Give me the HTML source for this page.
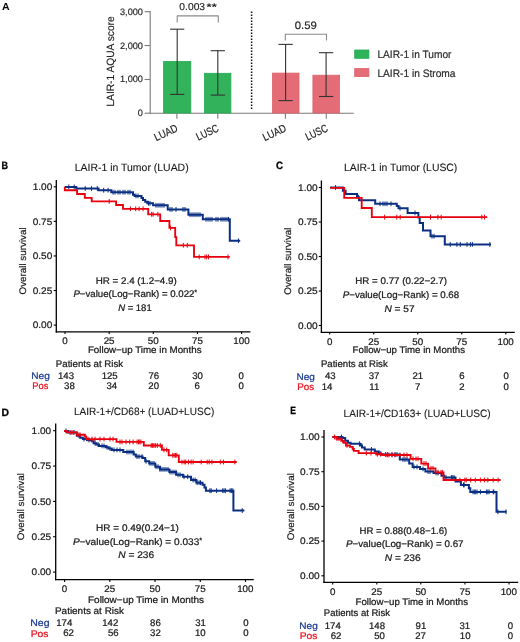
<!DOCTYPE html>
<html><head><meta charset="utf-8"><style>
html,body{margin:0;padding:0;background:#fff;}
svg{display:block;will-change:transform;}
text{font-family:"Liberation Sans",sans-serif;text-rendering:geometricPrecision;}
</style></head><body>
<svg width="520" height="642" viewBox="0 0 520 642" font-family="Liberation Sans, sans-serif">
<rect width="520" height="642" fill="#fff"/>
<text x="1.94" y="9.80" font-size="10.30" textLength="7.65" lengthAdjust="spacingAndGlyphs" fill="#000" font-weight="bold">A</text>
<line x1="150.20" y1="11.20" x2="150.20" y2="113.60" stroke="#7a7a7a" stroke-width="1.10"/>
<line x1="144.60" y1="11.70" x2="150.20" y2="11.70" stroke="#7a7a7a" stroke-width="1.10"/>
<line x1="144.60" y1="45.50" x2="150.20" y2="45.50" stroke="#7a7a7a" stroke-width="1.10"/>
<line x1="144.60" y1="79.50" x2="150.20" y2="79.50" stroke="#7a7a7a" stroke-width="1.10"/>
<line x1="144.60" y1="113.20" x2="150.20" y2="113.20" stroke="#7a7a7a" stroke-width="1.10"/>
<text x="119.97" y="14.60" font-size="9.20" textLength="23.02" lengthAdjust="spacingAndGlyphs" fill="#222" stroke="#222" stroke-width="0.15">3,000</text>
<text x="119.97" y="48.50" font-size="9.20" textLength="23.02" lengthAdjust="spacingAndGlyphs" fill="#222" stroke="#222" stroke-width="0.15">2,000</text>
<text x="119.97" y="82.40" font-size="9.20" textLength="23.02" lengthAdjust="spacingAndGlyphs" fill="#222" stroke="#222" stroke-width="0.15">1,000</text>
<text x="137.86" y="116.20" font-size="9.20" textLength="5.12" lengthAdjust="spacingAndGlyphs" fill="#222" stroke="#222" stroke-width="0.15">0</text>
<g transform="translate(113.6,61.3) rotate(-90)">
<text x="-45.32" y="0.00" font-size="10.60" textLength="90.30" lengthAdjust="spacingAndGlyphs" fill="#222" stroke="#222" stroke-width="0.15">LAIR-1 AQUA score</text>
</g>
<line x1="149.70" y1="113.20" x2="353.80" y2="113.20" stroke="#7a7a7a" stroke-width="1.10"/>
<line x1="176.90" y1="113.20" x2="176.90" y2="118.80" stroke="#7a7a7a" stroke-width="1.10"/>
<line x1="217.80" y1="113.20" x2="217.80" y2="118.80" stroke="#7a7a7a" stroke-width="1.10"/>
<line x1="285.40" y1="113.20" x2="285.40" y2="118.80" stroke="#7a7a7a" stroke-width="1.10"/>
<line x1="326.30" y1="113.20" x2="326.30" y2="118.80" stroke="#7a7a7a" stroke-width="1.10"/>
<rect x="163.60" y="61.50" width="27.20" height="51.50" fill="#33b25c" stroke="#24ab50" stroke-width="0.8"/>
<rect x="204.50" y="73.30" width="26.40" height="39.70" fill="#33b25c" stroke="#24ab50" stroke-width="0.8"/>
<rect x="272.50" y="73.10" width="26.50" height="39.90" fill="#e36c76" stroke="#de636e" stroke-width="0.8"/>
<rect x="312.90" y="75.20" width="26.70" height="37.80" fill="#e36c76" stroke="#de636e" stroke-width="0.8"/>
<line x1="177.20" y1="29.00" x2="177.20" y2="94.40" stroke="#333333" stroke-width="1.10"/>
<line x1="170.10" y1="29.20" x2="184.30" y2="29.20" stroke="#333333" stroke-width="1.10"/>
<line x1="170.10" y1="94.40" x2="184.30" y2="94.40" stroke="#333333" stroke-width="1.10"/>
<line x1="217.80" y1="50.50" x2="217.80" y2="95.10" stroke="#333333" stroke-width="1.10"/>
<line x1="210.70" y1="50.70" x2="224.90" y2="50.70" stroke="#333333" stroke-width="1.10"/>
<line x1="210.70" y1="95.10" x2="224.90" y2="95.10" stroke="#333333" stroke-width="1.10"/>
<line x1="285.60" y1="44.20" x2="285.60" y2="100.60" stroke="#333333" stroke-width="1.10"/>
<line x1="278.50" y1="44.40" x2="292.70" y2="44.40" stroke="#333333" stroke-width="1.10"/>
<line x1="278.50" y1="100.60" x2="292.70" y2="100.60" stroke="#333333" stroke-width="1.10"/>
<line x1="326.10" y1="52.50" x2="326.10" y2="96.50" stroke="#333333" stroke-width="1.10"/>
<line x1="319.00" y1="52.70" x2="333.20" y2="52.70" stroke="#333333" stroke-width="1.10"/>
<line x1="319.00" y1="96.50" x2="333.20" y2="96.50" stroke="#333333" stroke-width="1.10"/>
<path d="M177.2 22.4 V15.9 H218.3 V22.6" fill="none" stroke="#8a8a8a" stroke-width="1.1" stroke-linejoin="round"/>
<path d="M285.3 40.4 V34.2 H326.5 V40.4" fill="none" stroke="#8a8a8a" stroke-width="1.1" stroke-linejoin="round"/>
<text x="179.39" y="10.40" font-size="10.00" textLength="25.70" lengthAdjust="spacingAndGlyphs" fill="#222" stroke="#222" stroke-width="0.15">0.003</text>
<text x="206.64" y="10.20" font-size="9.40" textLength="10.11" lengthAdjust="spacingAndGlyphs" fill="#222" font-weight="bold">**</text>
<text x="294.75" y="28.70" font-size="10.90" textLength="22.08" lengthAdjust="spacingAndGlyphs" fill="#222" stroke="#222" stroke-width="0.15">0.59</text>
<line x1="251.6" y1="11.4" x2="251.6" y2="110" stroke="#111" stroke-width="1.5" stroke-dasharray="1.5 1.5"/>
<g transform="translate(178.10,131.00) rotate(-25)">
<text x="-24.03" y="0.00" font-size="10.90" textLength="24.47" lengthAdjust="spacingAndGlyphs" fill="#222" stroke="#222" stroke-width="0.20">LUAD</text>
</g>
<g transform="translate(219.20,131.00) rotate(-25)">
<text x="-23.00" y="0.00" font-size="10.90" textLength="23.37" lengthAdjust="spacingAndGlyphs" fill="#222" stroke="#222" stroke-width="0.20">LUSC</text>
</g>
<g transform="translate(286.60,131.00) rotate(-25)">
<text x="-24.03" y="0.00" font-size="10.90" textLength="24.47" lengthAdjust="spacingAndGlyphs" fill="#222" stroke="#222" stroke-width="0.20">LUAD</text>
</g>
<g transform="translate(328.30,131.00) rotate(-25)">
<text x="-23.00" y="0.00" font-size="10.90" textLength="23.37" lengthAdjust="spacingAndGlyphs" fill="#222" stroke="#222" stroke-width="0.20">LUSC</text>
</g>
<rect x="354.70" y="50.00" width="14.20" height="8.30" fill="#2fb35a" stroke="#24ab50" stroke-width="0.8"/>
<rect x="354.70" y="68.60" width="14.20" height="8.00" fill="#e36c76" stroke="#de636e" stroke-width="0.8"/>
<text x="377.39" y="58.30" font-size="10.80" textLength="74.07" lengthAdjust="spacingAndGlyphs" fill="#2a2a2a" stroke="#2a2a2a" stroke-width="0.20">LAIR-1 in Tumor</text>
<text x="377.39" y="76.60" font-size="10.80" textLength="78.11" lengthAdjust="spacingAndGlyphs" fill="#2a2a2a" stroke="#2a2a2a" stroke-width="0.20">LAIR-1 in Stroma</text>
<line x1="56.30" y1="180.10" x2="56.30" y2="332.40" stroke="#000" stroke-width="1.30"/>
<line x1="53.70" y1="186.80" x2="56.30" y2="186.80" stroke="#000" stroke-width="1.10"/>
<text x="32.72" y="190.10" font-size="9.50" textLength="19.60" lengthAdjust="spacingAndGlyphs" fill="#1a1a1a" stroke="#1a1a1a" stroke-width="0.22">1.00</text>
<line x1="53.70" y1="221.38" x2="56.30" y2="221.38" stroke="#000" stroke-width="1.10"/>
<text x="32.72" y="224.68" font-size="9.50" textLength="19.60" lengthAdjust="spacingAndGlyphs" fill="#1a1a1a" stroke="#1a1a1a" stroke-width="0.22">0.75</text>
<line x1="53.70" y1="255.95" x2="56.30" y2="255.95" stroke="#000" stroke-width="1.10"/>
<text x="32.72" y="259.25" font-size="9.50" textLength="19.60" lengthAdjust="spacingAndGlyphs" fill="#1a1a1a" stroke="#1a1a1a" stroke-width="0.22">0.50</text>
<line x1="53.70" y1="290.53" x2="56.30" y2="290.53" stroke="#000" stroke-width="1.10"/>
<text x="32.72" y="293.83" font-size="9.50" textLength="19.60" lengthAdjust="spacingAndGlyphs" fill="#1a1a1a" stroke="#1a1a1a" stroke-width="0.22">0.25</text>
<line x1="53.70" y1="325.10" x2="56.30" y2="325.10" stroke="#000" stroke-width="1.10"/>
<text x="32.72" y="328.40" font-size="9.50" textLength="19.60" lengthAdjust="spacingAndGlyphs" fill="#1a1a1a" stroke="#1a1a1a" stroke-width="0.22">0.00</text>
<line x1="55.70" y1="331.80" x2="250.40" y2="331.80" stroke="#000" stroke-width="1.30"/>
<line x1="65.00" y1="331.80" x2="65.00" y2="334.00" stroke="#000" stroke-width="1.10"/>
<text x="62.28" y="344.30" font-size="9.60" textLength="5.45" lengthAdjust="spacingAndGlyphs" fill="#1a1a1a" stroke="#1a1a1a" stroke-width="0.22">0</text>
<line x1="109.15" y1="331.80" x2="109.15" y2="334.00" stroke="#000" stroke-width="1.10"/>
<text x="103.67" y="344.30" font-size="9.60" textLength="10.89" lengthAdjust="spacingAndGlyphs" fill="#1a1a1a" stroke="#1a1a1a" stroke-width="0.22">25</text>
<line x1="153.30" y1="331.80" x2="153.30" y2="334.00" stroke="#000" stroke-width="1.10"/>
<text x="147.87" y="344.30" font-size="9.60" textLength="10.89" lengthAdjust="spacingAndGlyphs" fill="#1a1a1a" stroke="#1a1a1a" stroke-width="0.22">50</text>
<line x1="197.45" y1="331.80" x2="197.45" y2="334.00" stroke="#000" stroke-width="1.10"/>
<text x="191.97" y="344.30" font-size="9.60" textLength="10.89" lengthAdjust="spacingAndGlyphs" fill="#1a1a1a" stroke="#1a1a1a" stroke-width="0.22">75</text>
<line x1="241.60" y1="331.80" x2="241.60" y2="334.00" stroke="#000" stroke-width="1.10"/>
<text x="233.28" y="344.30" font-size="9.60" textLength="16.34" lengthAdjust="spacingAndGlyphs" fill="#1a1a1a" stroke="#1a1a1a" stroke-width="0.22">100</text>
<text x="1.41" y="168.80" font-size="10.60" textLength="6.51" lengthAdjust="spacingAndGlyphs" fill="#000" font-weight="bold" stroke="#000" stroke-width="0.30">B</text>
<text x="74.76" y="171.20" font-size="10.60" textLength="113.89" lengthAdjust="spacingAndGlyphs" fill="#1a1a1a" stroke="#1a1a1a" stroke-width="0.12">LAIR-1 in Tumor (LUAD)</text>
<text x="87.92" y="353.20" font-size="9.60" textLength="113.62" lengthAdjust="spacingAndGlyphs" fill="#1a1a1a" stroke="#1a1a1a" stroke-width="0.24">Follow−up Time in Months</text>
<g transform="translate(25.80,261.00) rotate(-90)">
<text x="-33.44" y="0.00" font-size="9.60" textLength="67.08" lengthAdjust="spacingAndGlyphs" fill="#1a1a1a" stroke="#1a1a1a" stroke-width="0.20">Overall survival</text>
</g>
<text x="95.72" y="283.90" font-size="9.60" textLength="80.99" lengthAdjust="spacingAndGlyphs" fill="#1a1a1a" stroke="#1a1a1a" stroke-width="0.24">HR = 2.4 (1.2−4.9)</text>
<text x="73.43" y="297.20" font-size="9.60" textLength="120.97" lengthAdjust="spacingAndGlyphs" fill="#1a1a1a" stroke="#1a1a1a" stroke-width="0.24"><tspan font-style="italic">P</tspan>−value(Log−Rank) = 0.022</text>
<text x="118.14" y="311.20" font-size="9.60" textLength="33.54" lengthAdjust="spacingAndGlyphs" fill="#1a1a1a" stroke="#1a1a1a" stroke-width="0.24"><tspan font-style="italic">N</tspan> = 181</text>
<text x="194.36" y="295.30" font-size="8.00" textLength="2.87" lengthAdjust="spacingAndGlyphs" fill="#1a1a1a" font-weight="bold">*</text>
<text x="55.82" y="366.50" font-size="9.60" textLength="67.40" lengthAdjust="spacingAndGlyphs" fill="#1a1a1a" stroke="#1a1a1a" stroke-width="0.24">Patients at Risk</text>
<text x="31.19" y="379.20" font-size="9.60" textLength="18.67" lengthAdjust="spacingAndGlyphs" fill="#1f3d96" stroke="#1f3d96" stroke-width="0.24">Neg</text>
<text x="32.35" y="389.30" font-size="9.60" textLength="16.05" lengthAdjust="spacingAndGlyphs" fill="#e8101c" stroke="#e8101c" stroke-width="0.24">Pos</text>
<text x="58.01" y="378.90" font-size="9.60" textLength="16.02" lengthAdjust="spacingAndGlyphs" fill="#1a1a1a" stroke="#1a1a1a" stroke-width="0.24">143</text>
<text x="101.69" y="378.90" font-size="9.60" textLength="16.02" lengthAdjust="spacingAndGlyphs" fill="#1a1a1a" stroke="#1a1a1a" stroke-width="0.24">125</text>
<text x="148.40" y="378.90" font-size="9.60" textLength="10.68" lengthAdjust="spacingAndGlyphs" fill="#1a1a1a" stroke="#1a1a1a" stroke-width="0.24">76</text>
<text x="192.22" y="378.90" font-size="9.60" textLength="10.68" lengthAdjust="spacingAndGlyphs" fill="#1a1a1a" stroke="#1a1a1a" stroke-width="0.24">30</text>
<text x="238.59" y="378.90" font-size="9.60" textLength="5.34" lengthAdjust="spacingAndGlyphs" fill="#1a1a1a" stroke="#1a1a1a" stroke-width="0.24">0</text>
<text x="64.07" y="389.40" font-size="9.60" textLength="10.68" lengthAdjust="spacingAndGlyphs" fill="#1a1a1a" stroke="#1a1a1a" stroke-width="0.24">38</text>
<text x="106.42" y="389.40" font-size="9.60" textLength="10.68" lengthAdjust="spacingAndGlyphs" fill="#1a1a1a" stroke="#1a1a1a" stroke-width="0.24">34</text>
<text x="148.37" y="389.40" font-size="9.60" textLength="10.68" lengthAdjust="spacingAndGlyphs" fill="#1a1a1a" stroke="#1a1a1a" stroke-width="0.24">20</text>
<text x="194.61" y="389.40" font-size="9.60" textLength="5.34" lengthAdjust="spacingAndGlyphs" fill="#1a1a1a" stroke="#1a1a1a" stroke-width="0.24">6</text>
<text x="238.59" y="389.40" font-size="9.60" textLength="5.34" lengthAdjust="spacingAndGlyphs" fill="#1a1a1a" stroke="#1a1a1a" stroke-width="0.24">0</text>
<line x1="321.40" y1="180.50" x2="321.40" y2="333.00" stroke="#000" stroke-width="1.30"/>
<line x1="318.80" y1="187.50" x2="321.40" y2="187.50" stroke="#000" stroke-width="1.10"/>
<text x="298.12" y="190.80" font-size="9.50" textLength="19.60" lengthAdjust="spacingAndGlyphs" fill="#1a1a1a" stroke="#1a1a1a" stroke-width="0.22">1.00</text>
<line x1="318.80" y1="222.00" x2="321.40" y2="222.00" stroke="#000" stroke-width="1.10"/>
<text x="298.12" y="225.30" font-size="9.50" textLength="19.60" lengthAdjust="spacingAndGlyphs" fill="#1a1a1a" stroke="#1a1a1a" stroke-width="0.22">0.75</text>
<line x1="318.80" y1="256.50" x2="321.40" y2="256.50" stroke="#000" stroke-width="1.10"/>
<text x="298.12" y="259.80" font-size="9.50" textLength="19.60" lengthAdjust="spacingAndGlyphs" fill="#1a1a1a" stroke="#1a1a1a" stroke-width="0.22">0.50</text>
<line x1="318.80" y1="291.00" x2="321.40" y2="291.00" stroke="#000" stroke-width="1.10"/>
<text x="298.12" y="294.30" font-size="9.50" textLength="19.60" lengthAdjust="spacingAndGlyphs" fill="#1a1a1a" stroke="#1a1a1a" stroke-width="0.22">0.25</text>
<line x1="318.80" y1="325.50" x2="321.40" y2="325.50" stroke="#000" stroke-width="1.10"/>
<text x="298.12" y="328.80" font-size="9.50" textLength="19.60" lengthAdjust="spacingAndGlyphs" fill="#1a1a1a" stroke="#1a1a1a" stroke-width="0.22">0.00</text>
<line x1="320.80" y1="332.40" x2="514.80" y2="332.40" stroke="#000" stroke-width="1.30"/>
<line x1="329.70" y1="332.40" x2="329.70" y2="334.60" stroke="#000" stroke-width="1.10"/>
<text x="326.98" y="344.90" font-size="9.60" textLength="5.45" lengthAdjust="spacingAndGlyphs" fill="#1a1a1a" stroke="#1a1a1a" stroke-width="0.22">0</text>
<line x1="373.73" y1="332.40" x2="373.73" y2="334.60" stroke="#000" stroke-width="1.10"/>
<text x="368.24" y="344.90" font-size="9.60" textLength="10.89" lengthAdjust="spacingAndGlyphs" fill="#1a1a1a" stroke="#1a1a1a" stroke-width="0.22">25</text>
<line x1="417.75" y1="332.40" x2="417.75" y2="334.60" stroke="#000" stroke-width="1.10"/>
<text x="412.32" y="344.90" font-size="9.60" textLength="10.89" lengthAdjust="spacingAndGlyphs" fill="#1a1a1a" stroke="#1a1a1a" stroke-width="0.22">50</text>
<line x1="461.77" y1="332.40" x2="461.77" y2="334.60" stroke="#000" stroke-width="1.10"/>
<text x="456.29" y="344.90" font-size="9.60" textLength="10.89" lengthAdjust="spacingAndGlyphs" fill="#1a1a1a" stroke="#1a1a1a" stroke-width="0.22">75</text>
<line x1="505.80" y1="332.40" x2="505.80" y2="334.60" stroke="#000" stroke-width="1.10"/>
<text x="497.48" y="344.90" font-size="9.60" textLength="16.34" lengthAdjust="spacingAndGlyphs" fill="#1a1a1a" stroke="#1a1a1a" stroke-width="0.22">100</text>
<text x="275.91" y="168.50" font-size="10.60" textLength="7.06" lengthAdjust="spacingAndGlyphs" fill="#000" font-weight="bold" stroke="#000" stroke-width="0.30">C</text>
<text x="343.97" y="171.20" font-size="10.60" textLength="113.38" lengthAdjust="spacingAndGlyphs" fill="#1a1a1a" stroke="#1a1a1a" stroke-width="0.12">LAIR-1 in Tumor (LUSC)</text>
<text x="352.63" y="353.40" font-size="9.60" textLength="112.40" lengthAdjust="spacingAndGlyphs" fill="#1a1a1a" stroke="#1a1a1a" stroke-width="0.24">Follow−up Time in Months</text>
<g transform="translate(290.60,261.20) rotate(-90)">
<text x="-33.44" y="0.00" font-size="9.60" textLength="67.08" lengthAdjust="spacingAndGlyphs" fill="#1a1a1a" stroke="#1a1a1a" stroke-width="0.20">Overall survival</text>
</g>
<text x="355.32" y="284.00" font-size="9.60" textLength="91.71" lengthAdjust="spacingAndGlyphs" fill="#1a1a1a" stroke="#1a1a1a" stroke-width="0.24">HR = 0.77 (0.22−2.7)</text>
<text x="342.72" y="297.80" font-size="9.60" textLength="116.47" lengthAdjust="spacingAndGlyphs" fill="#1a1a1a" stroke="#1a1a1a" stroke-width="0.24"><tspan font-style="italic">P</tspan>−value(Log−Rank) = 0.68</text>
<text x="384.49" y="312.00" font-size="9.60" textLength="30.11" lengthAdjust="spacingAndGlyphs" fill="#1a1a1a" stroke="#1a1a1a" stroke-width="0.24"><tspan font-style="italic">N</tspan> = 57</text>
<text x="320.93" y="366.90" font-size="9.60" textLength="66.79" lengthAdjust="spacingAndGlyphs" fill="#1a1a1a" stroke="#1a1a1a" stroke-width="0.24">Patients at Risk</text>
<text x="296.60" y="379.60" font-size="9.60" textLength="18.35" lengthAdjust="spacingAndGlyphs" fill="#1f3d96" stroke="#1f3d96" stroke-width="0.24">Neg</text>
<text x="297.22" y="389.70" font-size="9.60" textLength="16.80" lengthAdjust="spacingAndGlyphs" fill="#e8101c" stroke="#e8101c" stroke-width="0.24">Pos</text>
<text x="324.97" y="379.40" font-size="9.60" textLength="10.68" lengthAdjust="spacingAndGlyphs" fill="#1a1a1a" stroke="#1a1a1a" stroke-width="0.24">43</text>
<text x="368.72" y="379.40" font-size="9.60" textLength="10.68" lengthAdjust="spacingAndGlyphs" fill="#1a1a1a" stroke="#1a1a1a" stroke-width="0.24">37</text>
<text x="412.47" y="379.40" font-size="9.60" textLength="10.68" lengthAdjust="spacingAndGlyphs" fill="#1a1a1a" stroke="#1a1a1a" stroke-width="0.24">21</text>
<text x="459.31" y="379.40" font-size="9.60" textLength="5.34" lengthAdjust="spacingAndGlyphs" fill="#1a1a1a" stroke="#1a1a1a" stroke-width="0.24">6</text>
<text x="503.44" y="379.40" font-size="9.60" textLength="5.34" lengthAdjust="spacingAndGlyphs" fill="#1a1a1a" stroke="#1a1a1a" stroke-width="0.24">0</text>
<text x="321.66" y="389.60" font-size="9.60" textLength="10.68" lengthAdjust="spacingAndGlyphs" fill="#1a1a1a" stroke="#1a1a1a" stroke-width="0.24">14</text>
<text x="369.31" y="389.60" font-size="9.60" textLength="9.97" lengthAdjust="spacingAndGlyphs" fill="#1a1a1a" stroke="#1a1a1a" stroke-width="0.24">11</text>
<text x="414.94" y="389.60" font-size="9.60" textLength="5.34" lengthAdjust="spacingAndGlyphs" fill="#1a1a1a" stroke="#1a1a1a" stroke-width="0.24">7</text>
<text x="459.34" y="389.60" font-size="9.60" textLength="5.34" lengthAdjust="spacingAndGlyphs" fill="#1a1a1a" stroke="#1a1a1a" stroke-width="0.24">2</text>
<text x="503.44" y="389.60" font-size="9.60" textLength="5.34" lengthAdjust="spacingAndGlyphs" fill="#1a1a1a" stroke="#1a1a1a" stroke-width="0.24">0</text>
<line x1="55.70" y1="423.50" x2="55.70" y2="580.30" stroke="#000" stroke-width="1.30"/>
<line x1="53.10" y1="430.70" x2="55.70" y2="430.70" stroke="#000" stroke-width="1.10"/>
<text x="31.62" y="434.00" font-size="9.50" textLength="19.60" lengthAdjust="spacingAndGlyphs" fill="#1a1a1a" stroke="#1a1a1a" stroke-width="0.22">1.00</text>
<line x1="53.10" y1="466.05" x2="55.70" y2="466.05" stroke="#000" stroke-width="1.10"/>
<text x="31.62" y="469.35" font-size="9.50" textLength="19.60" lengthAdjust="spacingAndGlyphs" fill="#1a1a1a" stroke="#1a1a1a" stroke-width="0.22">0.75</text>
<line x1="53.10" y1="501.40" x2="55.70" y2="501.40" stroke="#000" stroke-width="1.10"/>
<text x="31.62" y="504.70" font-size="9.50" textLength="19.60" lengthAdjust="spacingAndGlyphs" fill="#1a1a1a" stroke="#1a1a1a" stroke-width="0.22">0.50</text>
<line x1="53.10" y1="536.75" x2="55.70" y2="536.75" stroke="#000" stroke-width="1.10"/>
<text x="31.62" y="540.05" font-size="9.50" textLength="19.60" lengthAdjust="spacingAndGlyphs" fill="#1a1a1a" stroke="#1a1a1a" stroke-width="0.22">0.25</text>
<line x1="53.10" y1="572.10" x2="55.70" y2="572.10" stroke="#000" stroke-width="1.10"/>
<text x="31.62" y="575.40" font-size="9.50" textLength="19.60" lengthAdjust="spacingAndGlyphs" fill="#1a1a1a" stroke="#1a1a1a" stroke-width="0.22">0.00</text>
<line x1="55.10" y1="579.70" x2="253.75" y2="579.70" stroke="#000" stroke-width="1.30"/>
<line x1="64.60" y1="579.70" x2="64.60" y2="581.90" stroke="#000" stroke-width="1.10"/>
<text x="61.88" y="592.20" font-size="9.60" textLength="5.45" lengthAdjust="spacingAndGlyphs" fill="#1a1a1a" stroke="#1a1a1a" stroke-width="0.22">0</text>
<line x1="109.82" y1="579.70" x2="109.82" y2="581.90" stroke="#000" stroke-width="1.10"/>
<text x="104.34" y="592.20" font-size="9.60" textLength="10.89" lengthAdjust="spacingAndGlyphs" fill="#1a1a1a" stroke="#1a1a1a" stroke-width="0.22">25</text>
<line x1="155.05" y1="579.70" x2="155.05" y2="581.90" stroke="#000" stroke-width="1.10"/>
<text x="149.62" y="592.20" font-size="9.60" textLength="10.89" lengthAdjust="spacingAndGlyphs" fill="#1a1a1a" stroke="#1a1a1a" stroke-width="0.22">50</text>
<line x1="200.28" y1="579.70" x2="200.28" y2="581.90" stroke="#000" stroke-width="1.10"/>
<text x="194.79" y="592.20" font-size="9.60" textLength="10.89" lengthAdjust="spacingAndGlyphs" fill="#1a1a1a" stroke="#1a1a1a" stroke-width="0.22">75</text>
<line x1="245.50" y1="579.70" x2="245.50" y2="581.90" stroke="#000" stroke-width="1.10"/>
<text x="237.18" y="592.20" font-size="9.60" textLength="16.34" lengthAdjust="spacingAndGlyphs" fill="#1a1a1a" stroke="#1a1a1a" stroke-width="0.22">100</text>
<text x="1.62" y="416.00" font-size="10.60" textLength="7.52" lengthAdjust="spacingAndGlyphs" fill="#000" font-weight="bold" stroke="#000" stroke-width="0.30">D</text>
<text x="73.90" y="414.70" font-size="10.60" textLength="140.34" lengthAdjust="spacingAndGlyphs" fill="#1a1a1a" stroke="#1a1a1a" stroke-width="0.12">LAIR-1+/CD68+ (LUAD+LUSC)</text>
<text x="88.00" y="603.40" font-size="9.60" textLength="116.09" lengthAdjust="spacingAndGlyphs" fill="#1a1a1a" stroke="#1a1a1a" stroke-width="0.24">Follow−up Time in Months</text>
<g transform="translate(24.00,506.80) rotate(-90)">
<text x="-33.44" y="0.00" font-size="9.60" textLength="67.08" lengthAdjust="spacingAndGlyphs" fill="#1a1a1a" stroke="#1a1a1a" stroke-width="0.20">Overall survival</text>
</g>
<text x="96.10" y="530.90" font-size="9.60" textLength="82.73" lengthAdjust="spacingAndGlyphs" fill="#1a1a1a" stroke="#1a1a1a" stroke-width="0.24">HR = 0.49(0.24−1)</text>
<text x="72.99" y="544.70" font-size="9.60" textLength="126.28" lengthAdjust="spacingAndGlyphs" fill="#1a1a1a" stroke="#1a1a1a" stroke-width="0.24"><tspan font-style="italic">P</tspan>−value(Log−Rank) = 0.033</text>
<text x="118.29" y="558.20" font-size="9.60" textLength="35.87" lengthAdjust="spacingAndGlyphs" fill="#1a1a1a" stroke="#1a1a1a" stroke-width="0.24"><tspan font-style="italic">N</tspan> = 236</text>
<text x="199.16" y="542.60" font-size="8.00" textLength="2.87" lengthAdjust="spacingAndGlyphs" fill="#1a1a1a" font-weight="bold">*</text>
<text x="55.01" y="614.20" font-size="9.60" textLength="68.92" lengthAdjust="spacingAndGlyphs" fill="#1a1a1a" stroke="#1a1a1a" stroke-width="0.24">Patients at Risk</text>
<text x="30.26" y="626.20" font-size="9.60" textLength="19.32" lengthAdjust="spacingAndGlyphs" fill="#1f3d96" stroke="#1f3d96" stroke-width="0.24">Neg</text>
<text x="30.67" y="636.60" font-size="9.60" textLength="17.87" lengthAdjust="spacingAndGlyphs" fill="#e8101c" stroke="#e8101c" stroke-width="0.24">Pos</text>
<text x="56.24" y="626.20" font-size="9.60" textLength="16.02" lengthAdjust="spacingAndGlyphs" fill="#1a1a1a" stroke="#1a1a1a" stroke-width="0.24">174</text>
<text x="102.29" y="626.20" font-size="9.60" textLength="16.02" lengthAdjust="spacingAndGlyphs" fill="#1a1a1a" stroke="#1a1a1a" stroke-width="0.24">142</text>
<text x="150.07" y="626.20" font-size="9.60" textLength="10.68" lengthAdjust="spacingAndGlyphs" fill="#1a1a1a" stroke="#1a1a1a" stroke-width="0.24">86</text>
<text x="195.22" y="626.20" font-size="9.60" textLength="10.68" lengthAdjust="spacingAndGlyphs" fill="#1a1a1a" stroke="#1a1a1a" stroke-width="0.24">31</text>
<text x="243.24" y="626.20" font-size="9.60" textLength="5.34" lengthAdjust="spacingAndGlyphs" fill="#1a1a1a" stroke="#1a1a1a" stroke-width="0.24">0</text>
<text x="63.17" y="636.40" font-size="9.60" textLength="10.68" lengthAdjust="spacingAndGlyphs" fill="#1a1a1a" stroke="#1a1a1a" stroke-width="0.24">62</text>
<text x="108.00" y="636.40" font-size="9.60" textLength="10.68" lengthAdjust="spacingAndGlyphs" fill="#1a1a1a" stroke="#1a1a1a" stroke-width="0.24">56</text>
<text x="150.12" y="636.40" font-size="9.60" textLength="10.68" lengthAdjust="spacingAndGlyphs" fill="#1a1a1a" stroke="#1a1a1a" stroke-width="0.24">32</text>
<text x="195.00" y="636.40" font-size="9.60" textLength="10.68" lengthAdjust="spacingAndGlyphs" fill="#1a1a1a" stroke="#1a1a1a" stroke-width="0.24">10</text>
<text x="243.24" y="636.40" font-size="9.60" textLength="5.34" lengthAdjust="spacingAndGlyphs" fill="#1a1a1a" stroke="#1a1a1a" stroke-width="0.24">0</text>
<line x1="324.00" y1="430.00" x2="324.00" y2="583.00" stroke="#000" stroke-width="1.30"/>
<line x1="321.40" y1="437.00" x2="324.00" y2="437.00" stroke="#000" stroke-width="1.10"/>
<text x="300.12" y="440.30" font-size="9.50" textLength="19.60" lengthAdjust="spacingAndGlyphs" fill="#1a1a1a" stroke="#1a1a1a" stroke-width="0.22">1.00</text>
<line x1="321.40" y1="471.70" x2="324.00" y2="471.70" stroke="#000" stroke-width="1.10"/>
<text x="300.12" y="475.00" font-size="9.50" textLength="19.60" lengthAdjust="spacingAndGlyphs" fill="#1a1a1a" stroke="#1a1a1a" stroke-width="0.22">0.75</text>
<line x1="321.40" y1="506.40" x2="324.00" y2="506.40" stroke="#000" stroke-width="1.10"/>
<text x="300.12" y="509.70" font-size="9.50" textLength="19.60" lengthAdjust="spacingAndGlyphs" fill="#1a1a1a" stroke="#1a1a1a" stroke-width="0.22">0.50</text>
<line x1="321.40" y1="541.10" x2="324.00" y2="541.10" stroke="#000" stroke-width="1.10"/>
<text x="300.12" y="544.40" font-size="9.50" textLength="19.60" lengthAdjust="spacingAndGlyphs" fill="#1a1a1a" stroke="#1a1a1a" stroke-width="0.22">0.25</text>
<line x1="321.40" y1="575.80" x2="324.00" y2="575.80" stroke="#000" stroke-width="1.10"/>
<text x="300.12" y="579.10" font-size="9.50" textLength="19.60" lengthAdjust="spacingAndGlyphs" fill="#1a1a1a" stroke="#1a1a1a" stroke-width="0.22">0.00</text>
<line x1="323.40" y1="582.40" x2="518.20" y2="582.40" stroke="#000" stroke-width="1.30"/>
<line x1="332.70" y1="582.40" x2="332.70" y2="584.60" stroke="#000" stroke-width="1.10"/>
<text x="329.98" y="594.90" font-size="9.60" textLength="5.45" lengthAdjust="spacingAndGlyphs" fill="#1a1a1a" stroke="#1a1a1a" stroke-width="0.22">0</text>
<line x1="376.77" y1="582.40" x2="376.77" y2="584.60" stroke="#000" stroke-width="1.10"/>
<text x="371.29" y="594.90" font-size="9.60" textLength="10.89" lengthAdjust="spacingAndGlyphs" fill="#1a1a1a" stroke="#1a1a1a" stroke-width="0.22">25</text>
<line x1="420.85" y1="582.40" x2="420.85" y2="584.60" stroke="#000" stroke-width="1.10"/>
<text x="415.42" y="594.90" font-size="9.60" textLength="10.89" lengthAdjust="spacingAndGlyphs" fill="#1a1a1a" stroke="#1a1a1a" stroke-width="0.22">50</text>
<line x1="464.93" y1="582.40" x2="464.93" y2="584.60" stroke="#000" stroke-width="1.10"/>
<text x="459.44" y="594.90" font-size="9.60" textLength="10.89" lengthAdjust="spacingAndGlyphs" fill="#1a1a1a" stroke="#1a1a1a" stroke-width="0.22">75</text>
<line x1="509.00" y1="582.40" x2="509.00" y2="584.60" stroke="#000" stroke-width="1.10"/>
<text x="500.68" y="594.90" font-size="9.60" textLength="16.34" lengthAdjust="spacingAndGlyphs" fill="#1a1a1a" stroke="#1a1a1a" stroke-width="0.22">100</text>
<text x="290.25" y="413.80" font-size="10.60" textLength="5.67" lengthAdjust="spacingAndGlyphs" fill="#000" font-weight="bold" stroke="#000" stroke-width="0.30">E</text>
<text x="343.59" y="417.00" font-size="10.60" textLength="147.06" lengthAdjust="spacingAndGlyphs" fill="#1a1a1a" stroke="#1a1a1a" stroke-width="0.12">LAIR-1+/CD163+ (LUAD+LUSC)</text>
<text x="355.53" y="604.70" font-size="9.60" textLength="112.51" lengthAdjust="spacingAndGlyphs" fill="#1a1a1a" stroke="#1a1a1a" stroke-width="0.24">Follow−up Time in Months</text>
<g transform="translate(294.30,506.80) rotate(-90)">
<text x="-33.44" y="0.00" font-size="9.60" textLength="67.08" lengthAdjust="spacingAndGlyphs" fill="#1a1a1a" stroke="#1a1a1a" stroke-width="0.20">Overall survival</text>
</g>
<text x="359.53" y="533.70" font-size="9.60" textLength="87.77" lengthAdjust="spacingAndGlyphs" fill="#1a1a1a" stroke="#1a1a1a" stroke-width="0.24">HR = 0.88(0.48−1.6)</text>
<text x="345.91" y="546.70" font-size="9.60" textLength="117.68" lengthAdjust="spacingAndGlyphs" fill="#1a1a1a" stroke="#1a1a1a" stroke-width="0.24"><tspan font-style="italic">P</tspan>−value(Log−Rank) = 0.67</text>
<text x="384.79" y="561.10" font-size="9.60" textLength="35.87" lengthAdjust="spacingAndGlyphs" fill="#1a1a1a" stroke="#1a1a1a" stroke-width="0.24"><tspan font-style="italic">N</tspan> = 236</text>
<text x="323.84" y="616.10" font-size="9.60" textLength="66.18" lengthAdjust="spacingAndGlyphs" fill="#1a1a1a" stroke="#1a1a1a" stroke-width="0.24">Patients at Risk</text>
<text x="299.30" y="629.00" font-size="9.60" textLength="18.45" lengthAdjust="spacingAndGlyphs" fill="#1f3d96" stroke="#1f3d96" stroke-width="0.24">Neg</text>
<text x="299.78" y="639.20" font-size="9.60" textLength="17.66" lengthAdjust="spacingAndGlyphs" fill="#e8101c" stroke="#e8101c" stroke-width="0.24">Pos</text>
<text x="324.79" y="629.00" font-size="9.60" textLength="16.02" lengthAdjust="spacingAndGlyphs" fill="#1a1a1a" stroke="#1a1a1a" stroke-width="0.24">174</text>
<text x="369.04" y="629.00" font-size="9.60" textLength="16.02" lengthAdjust="spacingAndGlyphs" fill="#1a1a1a" stroke="#1a1a1a" stroke-width="0.24">148</text>
<text x="415.60" y="629.00" font-size="9.60" textLength="10.68" lengthAdjust="spacingAndGlyphs" fill="#1a1a1a" stroke="#1a1a1a" stroke-width="0.24">91</text>
<text x="459.42" y="629.00" font-size="9.60" textLength="10.68" lengthAdjust="spacingAndGlyphs" fill="#1a1a1a" stroke="#1a1a1a" stroke-width="0.24">31</text>
<text x="507.74" y="629.00" font-size="9.60" textLength="5.34" lengthAdjust="spacingAndGlyphs" fill="#1a1a1a" stroke="#1a1a1a" stroke-width="0.24">0</text>
<text x="330.67" y="639.20" font-size="9.60" textLength="10.68" lengthAdjust="spacingAndGlyphs" fill="#1a1a1a" stroke="#1a1a1a" stroke-width="0.24">62</text>
<text x="374.27" y="639.20" font-size="9.60" textLength="10.68" lengthAdjust="spacingAndGlyphs" fill="#1a1a1a" stroke="#1a1a1a" stroke-width="0.24">50</text>
<text x="415.27" y="639.20" font-size="9.60" textLength="10.68" lengthAdjust="spacingAndGlyphs" fill="#1a1a1a" stroke="#1a1a1a" stroke-width="0.24">27</text>
<text x="459.80" y="639.20" font-size="9.60" textLength="10.68" lengthAdjust="spacingAndGlyphs" fill="#1a1a1a" stroke="#1a1a1a" stroke-width="0.24">10</text>
<text x="507.74" y="639.20" font-size="9.60" textLength="5.34" lengthAdjust="spacingAndGlyphs" fill="#1a1a1a" stroke="#1a1a1a" stroke-width="0.24">0</text>
<path d="M64.80 186.90 H76.30 V188.50 H98.50 V190.20 H111.30 V192.20 H133.00 V194.80 H134.60 V195.90 H141.50 V198.00 H143.00 V200.00 H145.20 V201.70 H147.30 V203.30 H153.10 V205.30 H167.70 V209.40 H188.40 V214.70 H202.80 V219.30 H229.80 V240.80 H240.20" fill="none" stroke="#0a2f82" stroke-width="2.00" stroke-linejoin="miter" stroke-linecap="butt"/>
<line x1="68.80" y1="184.50" x2="68.80" y2="189.30" stroke="#0a2f82" stroke-width="1.00"/>
<line x1="74.20" y1="184.50" x2="74.20" y2="189.30" stroke="#0a2f82" stroke-width="1.00"/>
<line x1="85.20" y1="186.10" x2="85.20" y2="190.90" stroke="#0a2f82" stroke-width="1.00"/>
<line x1="91.50" y1="186.10" x2="91.50" y2="190.90" stroke="#0a2f82" stroke-width="1.00"/>
<line x1="97.30" y1="186.10" x2="97.30" y2="190.90" stroke="#0a2f82" stroke-width="1.00"/>
<line x1="103.70" y1="187.80" x2="103.70" y2="192.60" stroke="#0a2f82" stroke-width="1.00"/>
<line x1="108.10" y1="187.80" x2="108.10" y2="192.60" stroke="#0a2f82" stroke-width="1.00"/>
<line x1="113.00" y1="189.80" x2="113.00" y2="194.60" stroke="#0a2f82" stroke-width="1.00"/>
<line x1="115.00" y1="189.80" x2="115.00" y2="194.60" stroke="#0a2f82" stroke-width="1.00"/>
<line x1="118.00" y1="189.80" x2="118.00" y2="194.60" stroke="#0a2f82" stroke-width="1.00"/>
<line x1="120.00" y1="189.80" x2="120.00" y2="194.60" stroke="#0a2f82" stroke-width="1.00"/>
<line x1="123.00" y1="189.80" x2="123.00" y2="194.60" stroke="#0a2f82" stroke-width="1.00"/>
<line x1="125.00" y1="189.80" x2="125.00" y2="194.60" stroke="#0a2f82" stroke-width="1.00"/>
<line x1="128.00" y1="189.80" x2="128.00" y2="194.60" stroke="#0a2f82" stroke-width="1.00"/>
<line x1="130.00" y1="189.80" x2="130.00" y2="194.60" stroke="#0a2f82" stroke-width="1.00"/>
<line x1="136.00" y1="193.50" x2="136.00" y2="198.30" stroke="#0a2f82" stroke-width="1.00"/>
<line x1="138.00" y1="193.50" x2="138.00" y2="198.30" stroke="#0a2f82" stroke-width="1.00"/>
<line x1="148.50" y1="200.90" x2="148.50" y2="205.70" stroke="#0a2f82" stroke-width="1.00"/>
<line x1="150.00" y1="200.90" x2="150.00" y2="205.70" stroke="#0a2f82" stroke-width="1.00"/>
<line x1="156.00" y1="202.90" x2="156.00" y2="207.70" stroke="#0a2f82" stroke-width="1.00"/>
<line x1="158.00" y1="202.90" x2="158.00" y2="207.70" stroke="#0a2f82" stroke-width="1.00"/>
<line x1="160.00" y1="202.90" x2="160.00" y2="207.70" stroke="#0a2f82" stroke-width="1.00"/>
<line x1="162.00" y1="202.90" x2="162.00" y2="207.70" stroke="#0a2f82" stroke-width="1.00"/>
<line x1="164.00" y1="202.90" x2="164.00" y2="207.70" stroke="#0a2f82" stroke-width="1.00"/>
<line x1="170.00" y1="207.00" x2="170.00" y2="211.80" stroke="#0a2f82" stroke-width="1.00"/>
<line x1="172.00" y1="207.00" x2="172.00" y2="211.80" stroke="#0a2f82" stroke-width="1.00"/>
<line x1="176.00" y1="207.00" x2="176.00" y2="211.80" stroke="#0a2f82" stroke-width="1.00"/>
<line x1="183.00" y1="207.00" x2="183.00" y2="211.80" stroke="#0a2f82" stroke-width="1.00"/>
<line x1="185.00" y1="207.00" x2="185.00" y2="211.80" stroke="#0a2f82" stroke-width="1.00"/>
<line x1="190.00" y1="212.30" x2="190.00" y2="217.10" stroke="#0a2f82" stroke-width="1.00"/>
<line x1="192.00" y1="212.30" x2="192.00" y2="217.10" stroke="#0a2f82" stroke-width="1.00"/>
<line x1="194.00" y1="212.30" x2="194.00" y2="217.10" stroke="#0a2f82" stroke-width="1.00"/>
<line x1="196.00" y1="212.30" x2="196.00" y2="217.10" stroke="#0a2f82" stroke-width="1.00"/>
<line x1="198.00" y1="212.30" x2="198.00" y2="217.10" stroke="#0a2f82" stroke-width="1.00"/>
<line x1="200.00" y1="212.30" x2="200.00" y2="217.10" stroke="#0a2f82" stroke-width="1.00"/>
<line x1="206.00" y1="216.90" x2="206.00" y2="221.70" stroke="#0a2f82" stroke-width="1.00"/>
<line x1="208.00" y1="216.90" x2="208.00" y2="221.70" stroke="#0a2f82" stroke-width="1.00"/>
<line x1="210.00" y1="216.90" x2="210.00" y2="221.70" stroke="#0a2f82" stroke-width="1.00"/>
<line x1="212.00" y1="216.90" x2="212.00" y2="221.70" stroke="#0a2f82" stroke-width="1.00"/>
<line x1="216.00" y1="216.90" x2="216.00" y2="221.70" stroke="#0a2f82" stroke-width="1.00"/>
<line x1="218.00" y1="216.90" x2="218.00" y2="221.70" stroke="#0a2f82" stroke-width="1.00"/>
<line x1="221.00" y1="216.90" x2="221.00" y2="221.70" stroke="#0a2f82" stroke-width="1.00"/>
<line x1="223.00" y1="216.90" x2="223.00" y2="221.70" stroke="#0a2f82" stroke-width="1.00"/>
<line x1="225.00" y1="216.90" x2="225.00" y2="221.70" stroke="#0a2f82" stroke-width="1.00"/>
<line x1="227.00" y1="216.90" x2="227.00" y2="221.70" stroke="#0a2f82" stroke-width="1.00"/>
<line x1="228.50" y1="216.90" x2="228.50" y2="221.70" stroke="#0a2f82" stroke-width="1.00"/>
<line x1="238.40" y1="238.40" x2="238.40" y2="243.20" stroke="#0a2f82" stroke-width="1.00"/>
<path d="M64.80 186.80 H64.80 V190.20 H77.10 V194.00 H84.80 V197.80 H91.70 V201.40 H116.10 V205.00 H123.00 V208.80 H148.20 V214.30 H160.20 V221.00 H169.40 V227.90 H175.20 V237.10 H176.30 V245.30 H194.00 V256.90 H229.80" fill="none" stroke="#e8000e" stroke-width="1.85" stroke-linejoin="miter" stroke-linecap="butt"/>
<line x1="109.20" y1="199.00" x2="109.20" y2="203.80" stroke="#e8000e" stroke-width="1.00"/>
<line x1="130.40" y1="206.40" x2="130.40" y2="211.20" stroke="#e8000e" stroke-width="1.00"/>
<line x1="135.70" y1="206.40" x2="135.70" y2="211.20" stroke="#e8000e" stroke-width="1.00"/>
<line x1="139.10" y1="206.40" x2="139.10" y2="211.20" stroke="#e8000e" stroke-width="1.00"/>
<line x1="143.10" y1="206.40" x2="143.10" y2="211.20" stroke="#e8000e" stroke-width="1.00"/>
<line x1="151.60" y1="211.90" x2="151.60" y2="216.70" stroke="#e8000e" stroke-width="1.00"/>
<line x1="153.10" y1="211.90" x2="153.10" y2="216.70" stroke="#e8000e" stroke-width="1.00"/>
<line x1="157.90" y1="211.90" x2="157.90" y2="216.70" stroke="#e8000e" stroke-width="1.00"/>
<line x1="170.60" y1="225.50" x2="170.60" y2="230.30" stroke="#e8000e" stroke-width="1.00"/>
<line x1="183.30" y1="242.90" x2="183.30" y2="247.70" stroke="#e8000e" stroke-width="1.00"/>
<line x1="187.30" y1="242.90" x2="187.30" y2="247.70" stroke="#e8000e" stroke-width="1.00"/>
<line x1="199.20" y1="254.50" x2="199.20" y2="259.30" stroke="#e8000e" stroke-width="1.00"/>
<line x1="205.00" y1="254.50" x2="205.00" y2="259.30" stroke="#e8000e" stroke-width="1.00"/>
<line x1="206.70" y1="254.50" x2="206.70" y2="259.30" stroke="#e8000e" stroke-width="1.00"/>
<line x1="208.50" y1="254.50" x2="208.50" y2="259.30" stroke="#e8000e" stroke-width="1.00"/>
<line x1="228.00" y1="254.50" x2="228.00" y2="259.30" stroke="#e8000e" stroke-width="1.00"/>
<path d="M330.10 187.50 H342.90 V190.80 H345.60 V193.90 H357.00 V197.20 H359.00 V200.20 H375.20 V203.80 H396.80 V206.00 H398.50 V208.20 H407.60 V212.90 H418.40 V217.60 H419.70 V223.00 H423.00 V230.40 H430.50 V236.20 H444.80 V244.40 H491.00" fill="none" stroke="#0a2f82" stroke-width="2.00" stroke-linejoin="miter" stroke-linecap="butt"/>
<line x1="335.50" y1="185.10" x2="335.50" y2="189.90" stroke="#0a2f82" stroke-width="1.00"/>
<line x1="358.50" y1="194.80" x2="358.50" y2="199.60" stroke="#0a2f82" stroke-width="1.00"/>
<line x1="380.00" y1="201.40" x2="380.00" y2="206.20" stroke="#0a2f82" stroke-width="1.00"/>
<line x1="383.00" y1="201.40" x2="383.00" y2="206.20" stroke="#0a2f82" stroke-width="1.00"/>
<line x1="385.00" y1="201.40" x2="385.00" y2="206.20" stroke="#0a2f82" stroke-width="1.00"/>
<line x1="387.00" y1="201.40" x2="387.00" y2="206.20" stroke="#0a2f82" stroke-width="1.00"/>
<line x1="391.00" y1="201.40" x2="391.00" y2="206.20" stroke="#0a2f82" stroke-width="1.00"/>
<line x1="400.00" y1="205.80" x2="400.00" y2="210.60" stroke="#0a2f82" stroke-width="1.00"/>
<line x1="415.00" y1="210.50" x2="415.00" y2="215.30" stroke="#0a2f82" stroke-width="1.00"/>
<line x1="432.00" y1="233.80" x2="432.00" y2="238.60" stroke="#0a2f82" stroke-width="1.00"/>
<line x1="434.00" y1="233.80" x2="434.00" y2="238.60" stroke="#0a2f82" stroke-width="1.00"/>
<line x1="450.20" y1="242.00" x2="450.20" y2="246.80" stroke="#0a2f82" stroke-width="1.00"/>
<line x1="456.90" y1="242.00" x2="456.90" y2="246.80" stroke="#0a2f82" stroke-width="1.00"/>
<line x1="460.30" y1="242.00" x2="460.30" y2="246.80" stroke="#0a2f82" stroke-width="1.00"/>
<line x1="467.00" y1="242.00" x2="467.00" y2="246.80" stroke="#0a2f82" stroke-width="1.00"/>
<line x1="470.40" y1="242.00" x2="470.40" y2="246.80" stroke="#0a2f82" stroke-width="1.00"/>
<line x1="472.40" y1="242.00" x2="472.40" y2="246.80" stroke="#0a2f82" stroke-width="1.00"/>
<line x1="489.90" y1="242.00" x2="489.90" y2="246.80" stroke="#0a2f82" stroke-width="1.00"/>
<path d="M330.10 187.90 H344.20 V197.90 H361.70 V208.00 H371.80 V217.10 H487.20" fill="none" stroke="#e8000e" stroke-width="1.85" stroke-linejoin="miter" stroke-linecap="butt"/>
<line x1="384.60" y1="214.70" x2="384.60" y2="219.50" stroke="#e8000e" stroke-width="1.00"/>
<line x1="396.80" y1="214.70" x2="396.80" y2="219.50" stroke="#e8000e" stroke-width="1.00"/>
<line x1="400.20" y1="214.70" x2="400.20" y2="219.50" stroke="#e8000e" stroke-width="1.00"/>
<line x1="430.50" y1="214.70" x2="430.50" y2="219.50" stroke="#e8000e" stroke-width="1.00"/>
<line x1="437.90" y1="214.70" x2="437.90" y2="219.50" stroke="#e8000e" stroke-width="1.00"/>
<line x1="441.20" y1="214.70" x2="441.20" y2="219.50" stroke="#e8000e" stroke-width="1.00"/>
<line x1="481.80" y1="214.70" x2="481.80" y2="219.50" stroke="#e8000e" stroke-width="1.00"/>
<line x1="484.50" y1="214.70" x2="484.50" y2="219.50" stroke="#e8000e" stroke-width="1.00"/>
<path d="M64.00 430.90 H68.00 V432.50 H76.80 V435.80 H80.20 V437.80 H82.90 V439.10 H86.90 V440.00 H91.60 V441.20 H93.60 V443.20 H96.30 V444.50 H99.00 V445.90 H105.80 V447.20 H108.50 V448.60 H111.80 V449.90 H123.30 V452.00 H133.70 V454.50 H135.80 V456.60 H142.50 V458.00 H145.20 V461.30 H149.20 V463.40 H155.30 V466.70 H160.00 V469.40 H169.40 V472.10 H176.10 V474.80 H182.90 V476.80 H191.00 V480.00 H196.40 V482.70 H202.50 V484.70 H204.50 V487.40 H205.90 V490.70 H233.40 V510.60 H244.40" fill="none" stroke="#0a2f82" stroke-width="2.00" stroke-linejoin="miter" stroke-linecap="butt"/>
<line x1="66.00" y1="428.50" x2="66.00" y2="433.30" stroke="#0a2f82" stroke-width="1.00"/>
<line x1="71.00" y1="430.10" x2="71.00" y2="434.90" stroke="#0a2f82" stroke-width="1.00"/>
<line x1="74.00" y1="430.10" x2="74.00" y2="434.90" stroke="#0a2f82" stroke-width="1.00"/>
<line x1="79.00" y1="433.40" x2="79.00" y2="438.20" stroke="#0a2f82" stroke-width="1.00"/>
<line x1="84.00" y1="436.70" x2="84.00" y2="441.50" stroke="#0a2f82" stroke-width="1.00"/>
<line x1="89.00" y1="437.60" x2="89.00" y2="442.40" stroke="#0a2f82" stroke-width="1.00"/>
<line x1="95.00" y1="440.80" x2="95.00" y2="445.60" stroke="#0a2f82" stroke-width="1.00"/>
<line x1="98.00" y1="442.10" x2="98.00" y2="446.90" stroke="#0a2f82" stroke-width="1.00"/>
<line x1="102.00" y1="443.50" x2="102.00" y2="448.30" stroke="#0a2f82" stroke-width="1.00"/>
<line x1="104.00" y1="443.50" x2="104.00" y2="448.30" stroke="#0a2f82" stroke-width="1.00"/>
<line x1="107.00" y1="444.80" x2="107.00" y2="449.60" stroke="#0a2f82" stroke-width="1.00"/>
<line x1="110.00" y1="446.20" x2="110.00" y2="451.00" stroke="#0a2f82" stroke-width="1.00"/>
<line x1="114.00" y1="447.50" x2="114.00" y2="452.30" stroke="#0a2f82" stroke-width="1.00"/>
<line x1="117.00" y1="447.50" x2="117.00" y2="452.30" stroke="#0a2f82" stroke-width="1.00"/>
<line x1="120.00" y1="447.50" x2="120.00" y2="452.30" stroke="#0a2f82" stroke-width="1.00"/>
<line x1="127.00" y1="449.60" x2="127.00" y2="454.40" stroke="#0a2f82" stroke-width="1.00"/>
<line x1="129.00" y1="449.60" x2="129.00" y2="454.40" stroke="#0a2f82" stroke-width="1.00"/>
<line x1="131.00" y1="449.60" x2="131.00" y2="454.40" stroke="#0a2f82" stroke-width="1.00"/>
<line x1="133.00" y1="449.60" x2="133.00" y2="454.40" stroke="#0a2f82" stroke-width="1.00"/>
<line x1="137.00" y1="454.20" x2="137.00" y2="459.00" stroke="#0a2f82" stroke-width="1.00"/>
<line x1="139.00" y1="454.20" x2="139.00" y2="459.00" stroke="#0a2f82" stroke-width="1.00"/>
<line x1="142.00" y1="454.20" x2="142.00" y2="459.00" stroke="#0a2f82" stroke-width="1.00"/>
<line x1="146.00" y1="458.90" x2="146.00" y2="463.70" stroke="#0a2f82" stroke-width="1.00"/>
<line x1="150.00" y1="461.00" x2="150.00" y2="465.80" stroke="#0a2f82" stroke-width="1.00"/>
<line x1="152.00" y1="461.00" x2="152.00" y2="465.80" stroke="#0a2f82" stroke-width="1.00"/>
<line x1="154.00" y1="461.00" x2="154.00" y2="465.80" stroke="#0a2f82" stroke-width="1.00"/>
<line x1="156.00" y1="464.30" x2="156.00" y2="469.10" stroke="#0a2f82" stroke-width="1.00"/>
<line x1="158.00" y1="464.30" x2="158.00" y2="469.10" stroke="#0a2f82" stroke-width="1.00"/>
<line x1="160.00" y1="467.00" x2="160.00" y2="471.80" stroke="#0a2f82" stroke-width="1.00"/>
<line x1="162.00" y1="467.00" x2="162.00" y2="471.80" stroke="#0a2f82" stroke-width="1.00"/>
<line x1="164.00" y1="467.00" x2="164.00" y2="471.80" stroke="#0a2f82" stroke-width="1.00"/>
<line x1="166.00" y1="467.00" x2="166.00" y2="471.80" stroke="#0a2f82" stroke-width="1.00"/>
<line x1="168.00" y1="467.00" x2="168.00" y2="471.80" stroke="#0a2f82" stroke-width="1.00"/>
<line x1="170.00" y1="469.70" x2="170.00" y2="474.50" stroke="#0a2f82" stroke-width="1.00"/>
<line x1="172.00" y1="469.70" x2="172.00" y2="474.50" stroke="#0a2f82" stroke-width="1.00"/>
<line x1="174.00" y1="469.70" x2="174.00" y2="474.50" stroke="#0a2f82" stroke-width="1.00"/>
<line x1="176.00" y1="469.70" x2="176.00" y2="474.50" stroke="#0a2f82" stroke-width="1.00"/>
<line x1="178.00" y1="472.40" x2="178.00" y2="477.20" stroke="#0a2f82" stroke-width="1.00"/>
<line x1="180.00" y1="472.40" x2="180.00" y2="477.20" stroke="#0a2f82" stroke-width="1.00"/>
<line x1="184.00" y1="474.40" x2="184.00" y2="479.20" stroke="#0a2f82" stroke-width="1.00"/>
<line x1="187.70" y1="474.40" x2="187.70" y2="479.20" stroke="#0a2f82" stroke-width="1.00"/>
<line x1="193.10" y1="477.60" x2="193.10" y2="482.40" stroke="#0a2f82" stroke-width="1.00"/>
<line x1="195.10" y1="477.60" x2="195.10" y2="482.40" stroke="#0a2f82" stroke-width="1.00"/>
<line x1="197.10" y1="480.30" x2="197.10" y2="485.10" stroke="#0a2f82" stroke-width="1.00"/>
<line x1="199.10" y1="480.30" x2="199.10" y2="485.10" stroke="#0a2f82" stroke-width="1.00"/>
<line x1="200.50" y1="480.30" x2="200.50" y2="485.10" stroke="#0a2f82" stroke-width="1.00"/>
<line x1="209.90" y1="488.30" x2="209.90" y2="493.10" stroke="#0a2f82" stroke-width="1.00"/>
<line x1="211.20" y1="488.30" x2="211.20" y2="493.10" stroke="#0a2f82" stroke-width="1.00"/>
<line x1="216.60" y1="488.30" x2="216.60" y2="493.10" stroke="#0a2f82" stroke-width="1.00"/>
<line x1="222.70" y1="488.30" x2="222.70" y2="493.10" stroke="#0a2f82" stroke-width="1.00"/>
<line x1="224.00" y1="488.30" x2="224.00" y2="493.10" stroke="#0a2f82" stroke-width="1.00"/>
<line x1="225.40" y1="488.30" x2="225.40" y2="493.10" stroke="#0a2f82" stroke-width="1.00"/>
<line x1="230.10" y1="488.30" x2="230.10" y2="493.10" stroke="#0a2f82" stroke-width="1.00"/>
<line x1="231.40" y1="488.30" x2="231.40" y2="493.10" stroke="#0a2f82" stroke-width="1.00"/>
<line x1="232.80" y1="488.30" x2="232.80" y2="493.10" stroke="#0a2f82" stroke-width="1.00"/>
<line x1="242.20" y1="508.20" x2="242.20" y2="513.00" stroke="#0a2f82" stroke-width="1.00"/>
<path d="M64.00 430.90 H66.70 V432.40 H76.80 V434.70 H84.90 V436.40 H86.20 V439.10 H116.50 V441.90 H143.80 V445.50 H162.00 V449.90 H168.70 V455.30 H178.80 V462.00 H236.80" fill="none" stroke="#e8000e" stroke-width="1.85" stroke-linejoin="miter" stroke-linecap="butt"/>
<line x1="70.00" y1="430.00" x2="70.00" y2="434.80" stroke="#e8000e" stroke-width="1.00"/>
<line x1="73.00" y1="430.00" x2="73.00" y2="434.80" stroke="#e8000e" stroke-width="1.00"/>
<line x1="78.00" y1="432.30" x2="78.00" y2="437.10" stroke="#e8000e" stroke-width="1.00"/>
<line x1="80.00" y1="432.30" x2="80.00" y2="437.10" stroke="#e8000e" stroke-width="1.00"/>
<line x1="88.00" y1="436.70" x2="88.00" y2="441.50" stroke="#e8000e" stroke-width="1.00"/>
<line x1="92.00" y1="436.70" x2="92.00" y2="441.50" stroke="#e8000e" stroke-width="1.00"/>
<line x1="95.00" y1="436.70" x2="95.00" y2="441.50" stroke="#e8000e" stroke-width="1.00"/>
<line x1="100.00" y1="436.70" x2="100.00" y2="441.50" stroke="#e8000e" stroke-width="1.00"/>
<line x1="104.00" y1="436.70" x2="104.00" y2="441.50" stroke="#e8000e" stroke-width="1.00"/>
<line x1="110.00" y1="436.70" x2="110.00" y2="441.50" stroke="#e8000e" stroke-width="1.00"/>
<line x1="113.00" y1="436.70" x2="113.00" y2="441.50" stroke="#e8000e" stroke-width="1.00"/>
<line x1="120.00" y1="439.50" x2="120.00" y2="444.30" stroke="#e8000e" stroke-width="1.00"/>
<line x1="122.00" y1="439.50" x2="122.00" y2="444.30" stroke="#e8000e" stroke-width="1.00"/>
<line x1="126.00" y1="439.50" x2="126.00" y2="444.30" stroke="#e8000e" stroke-width="1.00"/>
<line x1="129.70" y1="439.50" x2="129.70" y2="444.30" stroke="#e8000e" stroke-width="1.00"/>
<line x1="133.10" y1="439.50" x2="133.10" y2="444.30" stroke="#e8000e" stroke-width="1.00"/>
<line x1="137.10" y1="439.50" x2="137.10" y2="444.30" stroke="#e8000e" stroke-width="1.00"/>
<line x1="138.50" y1="439.50" x2="138.50" y2="444.30" stroke="#e8000e" stroke-width="1.00"/>
<line x1="139.80" y1="439.50" x2="139.80" y2="444.30" stroke="#e8000e" stroke-width="1.00"/>
<line x1="140.90" y1="439.50" x2="140.90" y2="444.30" stroke="#e8000e" stroke-width="1.00"/>
<line x1="151.20" y1="443.10" x2="151.20" y2="447.90" stroke="#e8000e" stroke-width="1.00"/>
<line x1="152.60" y1="443.10" x2="152.60" y2="447.90" stroke="#e8000e" stroke-width="1.00"/>
<line x1="153.90" y1="443.10" x2="153.90" y2="447.90" stroke="#e8000e" stroke-width="1.00"/>
<line x1="155.30" y1="443.10" x2="155.30" y2="447.90" stroke="#e8000e" stroke-width="1.00"/>
<line x1="157.30" y1="443.10" x2="157.30" y2="447.90" stroke="#e8000e" stroke-width="1.00"/>
<line x1="160.30" y1="443.10" x2="160.30" y2="447.90" stroke="#e8000e" stroke-width="1.00"/>
<line x1="164.00" y1="447.50" x2="164.00" y2="452.30" stroke="#e8000e" stroke-width="1.00"/>
<line x1="166.70" y1="447.50" x2="166.70" y2="452.30" stroke="#e8000e" stroke-width="1.00"/>
<line x1="172.80" y1="452.90" x2="172.80" y2="457.70" stroke="#e8000e" stroke-width="1.00"/>
<line x1="174.10" y1="452.90" x2="174.10" y2="457.70" stroke="#e8000e" stroke-width="1.00"/>
<line x1="175.50" y1="452.90" x2="175.50" y2="457.70" stroke="#e8000e" stroke-width="1.00"/>
<line x1="176.80" y1="452.90" x2="176.80" y2="457.70" stroke="#e8000e" stroke-width="1.00"/>
<line x1="182.00" y1="459.60" x2="182.00" y2="464.40" stroke="#e8000e" stroke-width="1.00"/>
<line x1="184.20" y1="459.60" x2="184.20" y2="464.40" stroke="#e8000e" stroke-width="1.00"/>
<line x1="185.70" y1="459.60" x2="185.70" y2="464.40" stroke="#e8000e" stroke-width="1.00"/>
<line x1="188.40" y1="459.60" x2="188.40" y2="464.40" stroke="#e8000e" stroke-width="1.00"/>
<line x1="191.10" y1="459.60" x2="191.10" y2="464.40" stroke="#e8000e" stroke-width="1.00"/>
<line x1="193.10" y1="459.60" x2="193.10" y2="464.40" stroke="#e8000e" stroke-width="1.00"/>
<line x1="201.20" y1="459.60" x2="201.20" y2="464.40" stroke="#e8000e" stroke-width="1.00"/>
<line x1="207.20" y1="459.60" x2="207.20" y2="464.40" stroke="#e8000e" stroke-width="1.00"/>
<line x1="209.20" y1="459.60" x2="209.20" y2="464.40" stroke="#e8000e" stroke-width="1.00"/>
<line x1="211.90" y1="459.60" x2="211.90" y2="464.40" stroke="#e8000e" stroke-width="1.00"/>
<line x1="220.30" y1="459.60" x2="220.30" y2="464.40" stroke="#e8000e" stroke-width="1.00"/>
<line x1="223.40" y1="459.60" x2="223.40" y2="464.40" stroke="#e8000e" stroke-width="1.00"/>
<line x1="234.80" y1="459.60" x2="234.80" y2="464.40" stroke="#e8000e" stroke-width="1.00"/>
<path d="M332.40 437.00 H342.50 V438.10 H345.20 V440.80 H347.90 V442.80 H350.60 V443.70 H360.00 V445.50 H362.00 V447.50 H364.70 V449.50 H374.80 V451.50 H378.80 V453.60 H380.90 V454.50 H399.80 V459.50 H409.20 V463.60 H412.60 V466.90 H420.00 V468.90 H425.40 V471.60 H433.50 V473.00 H441.50 V475.70 H444.20 V477.50 H455.50 V481.50 H460.90 V484.90 H468.90 V488.30 H470.30 V491.90 H496.50 V511.80 H506.60" fill="none" stroke="#0a2f82" stroke-width="2.00" stroke-linejoin="miter" stroke-linecap="butt"/>
<line x1="341.50" y1="434.60" x2="341.50" y2="439.40" stroke="#0a2f82" stroke-width="1.00"/>
<line x1="359.40" y1="441.30" x2="359.40" y2="446.10" stroke="#0a2f82" stroke-width="1.00"/>
<line x1="361.70" y1="443.10" x2="361.70" y2="447.90" stroke="#0a2f82" stroke-width="1.00"/>
<line x1="371.50" y1="447.10" x2="371.50" y2="451.90" stroke="#0a2f82" stroke-width="1.00"/>
<line x1="380.70" y1="451.20" x2="380.70" y2="456.00" stroke="#0a2f82" stroke-width="1.00"/>
<line x1="385.40" y1="452.10" x2="385.40" y2="456.90" stroke="#0a2f82" stroke-width="1.00"/>
<line x1="387.70" y1="452.10" x2="387.70" y2="456.90" stroke="#0a2f82" stroke-width="1.00"/>
<line x1="392.00" y1="452.10" x2="392.00" y2="456.90" stroke="#0a2f82" stroke-width="1.00"/>
<line x1="395.00" y1="452.10" x2="395.00" y2="456.90" stroke="#0a2f82" stroke-width="1.00"/>
<line x1="397.00" y1="452.10" x2="397.00" y2="456.90" stroke="#0a2f82" stroke-width="1.00"/>
<line x1="403.00" y1="457.10" x2="403.00" y2="461.90" stroke="#0a2f82" stroke-width="1.00"/>
<line x1="405.00" y1="457.10" x2="405.00" y2="461.90" stroke="#0a2f82" stroke-width="1.00"/>
<line x1="407.00" y1="457.10" x2="407.00" y2="461.90" stroke="#0a2f82" stroke-width="1.00"/>
<line x1="414.00" y1="464.50" x2="414.00" y2="469.30" stroke="#0a2f82" stroke-width="1.00"/>
<line x1="417.00" y1="464.50" x2="417.00" y2="469.30" stroke="#0a2f82" stroke-width="1.00"/>
<line x1="423.00" y1="466.50" x2="423.00" y2="471.30" stroke="#0a2f82" stroke-width="1.00"/>
<line x1="428.00" y1="469.20" x2="428.00" y2="474.00" stroke="#0a2f82" stroke-width="1.00"/>
<line x1="430.00" y1="469.20" x2="430.00" y2="474.00" stroke="#0a2f82" stroke-width="1.00"/>
<line x1="436.00" y1="470.60" x2="436.00" y2="475.40" stroke="#0a2f82" stroke-width="1.00"/>
<line x1="438.00" y1="470.60" x2="438.00" y2="475.40" stroke="#0a2f82" stroke-width="1.00"/>
<line x1="446.00" y1="475.10" x2="446.00" y2="479.90" stroke="#0a2f82" stroke-width="1.00"/>
<line x1="451.40" y1="475.10" x2="451.40" y2="479.90" stroke="#0a2f82" stroke-width="1.00"/>
<line x1="452.80" y1="475.10" x2="452.80" y2="479.90" stroke="#0a2f82" stroke-width="1.00"/>
<line x1="454.10" y1="475.10" x2="454.10" y2="479.90" stroke="#0a2f82" stroke-width="1.00"/>
<line x1="463.50" y1="482.50" x2="463.50" y2="487.30" stroke="#0a2f82" stroke-width="1.00"/>
<line x1="464.20" y1="482.50" x2="464.20" y2="487.30" stroke="#0a2f82" stroke-width="1.00"/>
<line x1="473.00" y1="489.50" x2="473.00" y2="494.30" stroke="#0a2f82" stroke-width="1.00"/>
<line x1="474.30" y1="489.50" x2="474.30" y2="494.30" stroke="#0a2f82" stroke-width="1.00"/>
<line x1="475.70" y1="489.50" x2="475.70" y2="494.30" stroke="#0a2f82" stroke-width="1.00"/>
<line x1="477.00" y1="489.50" x2="477.00" y2="494.30" stroke="#0a2f82" stroke-width="1.00"/>
<line x1="480.40" y1="489.50" x2="480.40" y2="494.30" stroke="#0a2f82" stroke-width="1.00"/>
<line x1="486.40" y1="489.50" x2="486.40" y2="494.30" stroke="#0a2f82" stroke-width="1.00"/>
<line x1="487.80" y1="489.50" x2="487.80" y2="494.30" stroke="#0a2f82" stroke-width="1.00"/>
<line x1="489.10" y1="489.50" x2="489.10" y2="494.30" stroke="#0a2f82" stroke-width="1.00"/>
<line x1="493.20" y1="489.50" x2="493.20" y2="494.30" stroke="#0a2f82" stroke-width="1.00"/>
<line x1="493.80" y1="489.50" x2="493.80" y2="494.30" stroke="#0a2f82" stroke-width="1.00"/>
<line x1="497.90" y1="509.40" x2="497.90" y2="514.20" stroke="#0a2f82" stroke-width="1.00"/>
<line x1="506.00" y1="509.40" x2="506.00" y2="514.20" stroke="#0a2f82" stroke-width="1.00"/>
<path d="M332.40 437.00 H336.40 V438.70 H341.20 V440.80 H343.80 V442.80 H345.90 V445.50 H349.90 V446.80 H352.60 V448.80 H353.90 V450.90 H358.60 V453.10 H376.10 V454.20 H382.90 V455.00 H410.60 V458.80 H421.30 V463.60 H428.10 V468.30 H435.50 V472.30 H443.50 V480.00 H500.60" fill="none" stroke="#e8000e" stroke-width="1.85" stroke-linejoin="miter" stroke-linecap="butt"/>
<line x1="334.60" y1="434.60" x2="334.60" y2="439.40" stroke="#e8000e" stroke-width="1.00"/>
<line x1="337.00" y1="436.30" x2="337.00" y2="441.10" stroke="#e8000e" stroke-width="1.00"/>
<line x1="339.00" y1="436.30" x2="339.00" y2="441.10" stroke="#e8000e" stroke-width="1.00"/>
<line x1="342.70" y1="438.40" x2="342.70" y2="443.20" stroke="#e8000e" stroke-width="1.00"/>
<line x1="347.00" y1="443.10" x2="347.00" y2="447.90" stroke="#e8000e" stroke-width="1.00"/>
<line x1="353.10" y1="446.40" x2="353.10" y2="451.20" stroke="#e8000e" stroke-width="1.00"/>
<line x1="366.30" y1="450.70" x2="366.30" y2="455.50" stroke="#e8000e" stroke-width="1.00"/>
<line x1="371.00" y1="450.70" x2="371.00" y2="455.50" stroke="#e8000e" stroke-width="1.00"/>
<line x1="377.30" y1="451.80" x2="377.30" y2="456.60" stroke="#e8000e" stroke-width="1.00"/>
<line x1="380.70" y1="451.80" x2="380.70" y2="456.60" stroke="#e8000e" stroke-width="1.00"/>
<line x1="387.00" y1="452.60" x2="387.00" y2="457.40" stroke="#e8000e" stroke-width="1.00"/>
<line x1="389.00" y1="452.60" x2="389.00" y2="457.40" stroke="#e8000e" stroke-width="1.00"/>
<line x1="392.00" y1="452.60" x2="392.00" y2="457.40" stroke="#e8000e" stroke-width="1.00"/>
<line x1="395.00" y1="452.60" x2="395.00" y2="457.40" stroke="#e8000e" stroke-width="1.00"/>
<line x1="400.00" y1="452.60" x2="400.00" y2="457.40" stroke="#e8000e" stroke-width="1.00"/>
<line x1="404.00" y1="452.60" x2="404.00" y2="457.40" stroke="#e8000e" stroke-width="1.00"/>
<line x1="407.00" y1="452.60" x2="407.00" y2="457.40" stroke="#e8000e" stroke-width="1.00"/>
<line x1="413.00" y1="456.40" x2="413.00" y2="461.20" stroke="#e8000e" stroke-width="1.00"/>
<line x1="416.00" y1="456.40" x2="416.00" y2="461.20" stroke="#e8000e" stroke-width="1.00"/>
<line x1="418.00" y1="456.40" x2="418.00" y2="461.20" stroke="#e8000e" stroke-width="1.00"/>
<line x1="424.00" y1="461.20" x2="424.00" y2="466.00" stroke="#e8000e" stroke-width="1.00"/>
<line x1="426.00" y1="461.20" x2="426.00" y2="466.00" stroke="#e8000e" stroke-width="1.00"/>
<line x1="431.00" y1="465.90" x2="431.00" y2="470.70" stroke="#e8000e" stroke-width="1.00"/>
<line x1="433.00" y1="465.90" x2="433.00" y2="470.70" stroke="#e8000e" stroke-width="1.00"/>
<line x1="438.00" y1="469.90" x2="438.00" y2="474.70" stroke="#e8000e" stroke-width="1.00"/>
<line x1="441.00" y1="469.90" x2="441.00" y2="474.70" stroke="#e8000e" stroke-width="1.00"/>
<line x1="442.70" y1="469.90" x2="442.70" y2="474.70" stroke="#e8000e" stroke-width="1.00"/>
<line x1="459.90" y1="477.60" x2="459.90" y2="482.40" stroke="#e8000e" stroke-width="1.00"/>
<line x1="464.90" y1="477.60" x2="464.90" y2="482.40" stroke="#e8000e" stroke-width="1.00"/>
<line x1="466.20" y1="477.60" x2="466.20" y2="482.40" stroke="#e8000e" stroke-width="1.00"/>
<line x1="470.70" y1="477.60" x2="470.70" y2="482.40" stroke="#e8000e" stroke-width="1.00"/>
<line x1="475.30" y1="477.60" x2="475.30" y2="482.40" stroke="#e8000e" stroke-width="1.00"/>
<line x1="480.40" y1="477.60" x2="480.40" y2="482.40" stroke="#e8000e" stroke-width="1.00"/>
<line x1="484.40" y1="477.60" x2="484.40" y2="482.40" stroke="#e8000e" stroke-width="1.00"/>
<line x1="487.80" y1="477.60" x2="487.80" y2="482.40" stroke="#e8000e" stroke-width="1.00"/>
<line x1="493.20" y1="477.60" x2="493.20" y2="482.40" stroke="#e8000e" stroke-width="1.00"/>
<line x1="498.10" y1="477.60" x2="498.10" y2="482.40" stroke="#e8000e" stroke-width="1.00"/>
</svg>
</body></html>
